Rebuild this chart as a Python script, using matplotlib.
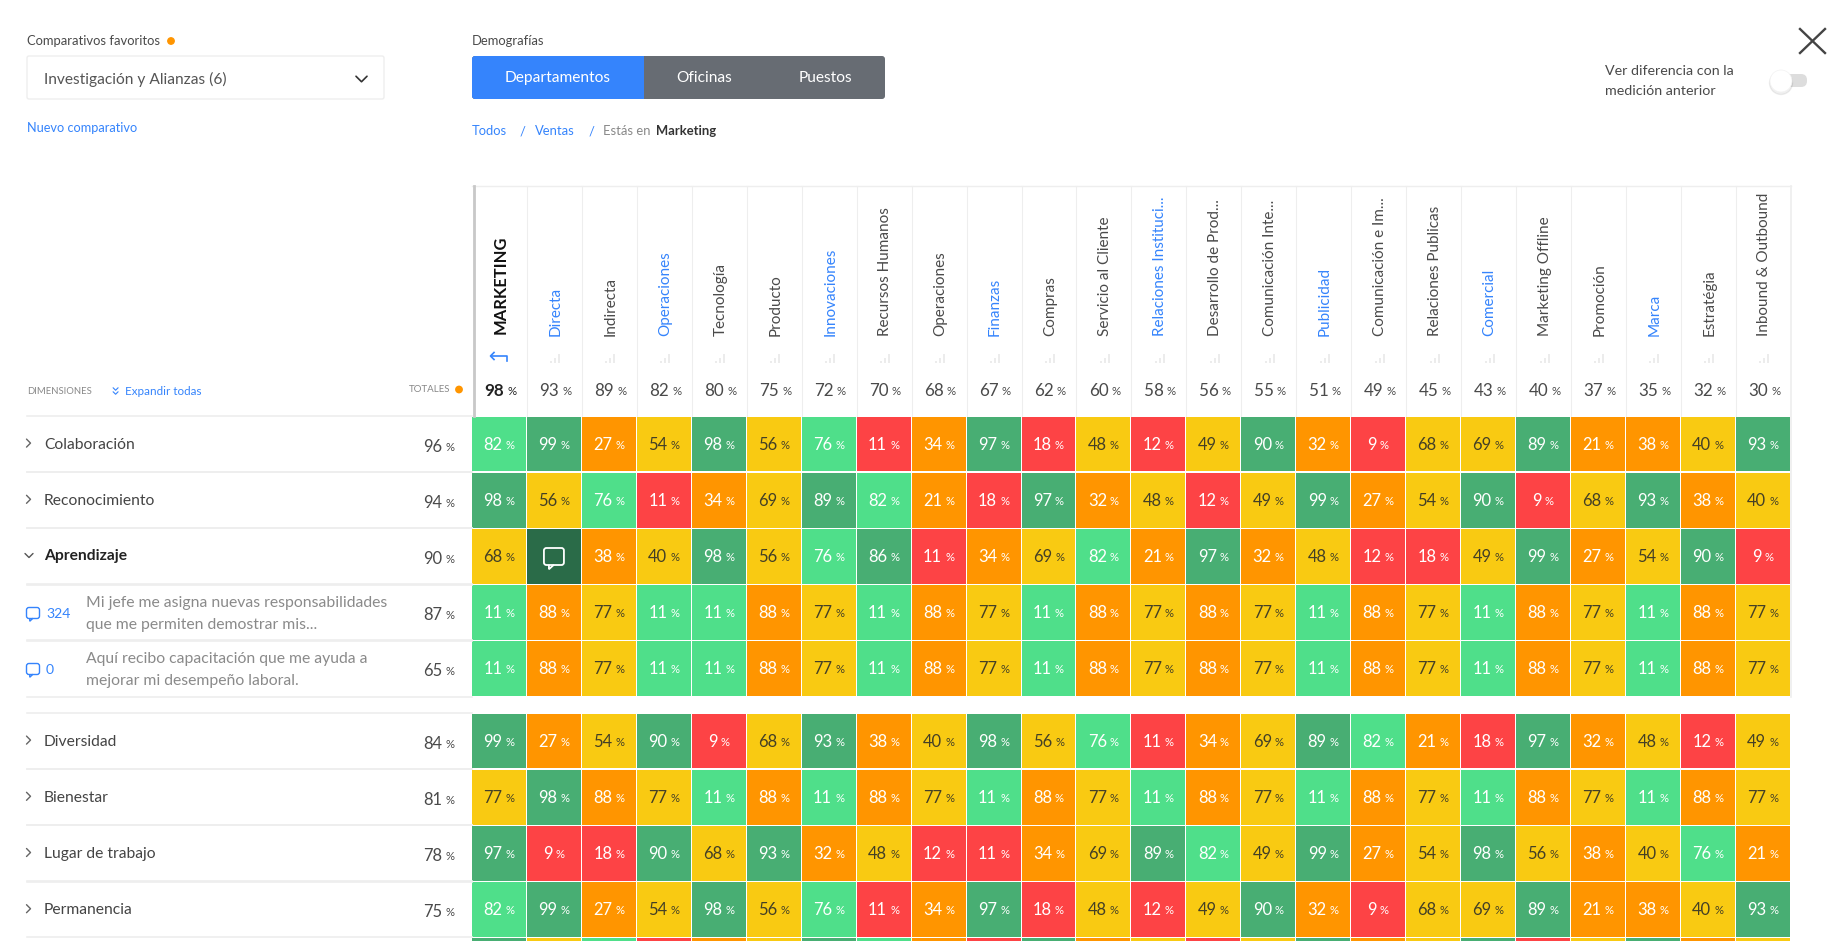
"""Heatmap screen for the comparativos view, drawn on a pixel-sized axes."""

from __future__ import annotations

import matplotlib

matplotlib.use("Agg")
import matplotlib.pyplot as plt
from matplotlib.patches import Circle, FancyBboxPatch, Polygon, Rectangle

plt.rcParams["font.family"] = ["Lato", "DejaVu Sans"]

WIDTH, HEIGHT = 1846, 941

columns = [
    "MARKETING", "Directa", "Indirecta", "Operaciones", "Tecnología", "Producto",
    "Innovaciones", "Recursos Humanos", "Operaciones", "Finanzas", "Compras",
    "Servicio al Cliente", "Relaciones Instituci...", "Desarrollo de Prod...",
    "Comunicación Inte...", "Publicidad", "Comunicación e Im...",
    "Relaciones Publicas", "Comercial", "Marketing Offline", "Promoción", "Marca",
    "Estratégia", "Inbound & Outbound",
]
linked_columns = [1, 3, 6, 9, 12, 15, 18, 21]
column_totals = [98, 93, 89, 82, 80, 75, 72, 70, 68, 67, 62, 60, 58, 56, 55, 51, 49, 45, 43, 40, 37, 35, 32, 30]

row_labels = [
    "Colaboración", "Reconocimiento", "Aprendizaje", None, None,
    "Diversidad", "Bienestar", "Lugar de trabajo", "Permanencia", None,
]
row_totals = [96, 94, 90, 87, 65, 84, 81, 78, 75, None]

colaboracion = [82, 99, 27, 54, 98, 56, 76, 11, 34, 97, 18, 48, 12, 49, 90, 32, 9, 68, 69, 89, 21, 38, 40, 93]
reconocimiento = [98, 56, 76, 11, 34, 69, 89, 82, 21, 18, 97, 32, 48, 12, 49, 99, 27, 54, 90, 9, 68, 93, 38, 40]
aprendizaje = [68, None, 38, 40, 98, 56, 76, 86, 11, 34, 69, 82, 21, 97, 32, 48, 12, 18, 49, 99, 27, 54, 90, 9]
pregunta = [11, 88, 77, 11, 11, 88, 77, 11, 88, 77, 11, 88, 77, 88, 77, 11, 88, 77, 11, 88, 77, 11, 88, 77]
diversidad = [99, 27, 54, 90, 9, 68, 93, 38, 40, 98, 56, 76, 11, 34, 69, 89, 82, 21, 18, 97, 32, 48, 12, 49]
bienestar = [77, 98, 88, 77, 11, 88, 11, 88, 77, 11, 88, 77, 11, 88, 77, 11, 88, 77, 11, 88, 77, 11, 88, 77]
lugar = [97, 9, 18, 90, 68, 93, 32, 48, 12, 11, 34, 69, 89, 82, 49, 99, 27, 54, 98, 56, 38, 40, 76, 21]
rows = [
    colaboracion, reconocimiento, aprendizaje, pregunta, pregunta,
    diversidad, bienestar, lugar, colaboracion, reconocimiento,
]
# in these rows 11 is green and 88 orange, the values do not follow the usual bands
placeholder_rows = [3, 4, 6]
# only a sliver of the last row is on screen, its numbers fall below the edge
sliver_row = 9

DARK_GREEN = "#48ae73"
LIGHT_GREEN = "#4fdf8a"
YELLOW = "#f9ca12"
ORANGE = "#ff9500"
RED = "#fd4345"
BLUE = "#3584fc"
TEXT = "#4a4a4a"
LINE = "#eeeeee"

GRID_LEFT = 472.0
COL_W = 54.95
ROW_TOPS = [416.5, 472.7, 528.9, 585.0, 641.0, 713.5, 769.7, 825.9, 882.1, 938.3]
ROW_H = 56.2


def cell_color(value, row):
    if row in placeholder_rows:
        if value == 11:
            return LIGHT_GREEN
        if value == 88:
            return ORANGE
        if value == 77:
            return YELLOW
    if value >= 86:
        return DARK_GREEN
    if value >= 70:
        return LIGHT_GREEN
    if value >= 40:
        return YELLOW
    if value >= 20:
        return ORANGE
    return RED


def label(ax, x, y, s, size=14.0, color=TEXT, ha="left", weight="normal", rotation=0, va="center"):
    return ax.text(
        x, y, s, fontsize=size * 0.72, color=color, ha=ha, va=va,
        fontweight=weight, rotation=rotation, rotation_mode="anchor",
    )


def percent(ax, fig, x, y, value, color, size=16.5, weight="normal"):
    # number and sign have different sizes, so centre the pair by hand
    renderer = fig.canvas.get_renderer()
    num = label(ax, x, y, str(value), size, color, weight=weight)
    sign = label(ax, x, y + 0.7, "%", size * 0.68, color)
    w_num = num.get_window_extent(renderer).width
    w_sign = sign.get_window_extent(renderer).width
    left = x - (w_num + 3 + w_sign) / 2
    num.set_x(left)
    sign.set_x(left + w_num + 3)


def chevron(ax, x, y, size, color, down=False, lw=1.0):
    if down:
        xs, ys = [x - size, x, x + size], [y - size / 2, y + size / 2, y - size / 2]
    else:
        xs, ys = [x - size / 2, x + size / 2, x - size / 2], [y - size, y, y + size]
    ax.plot(xs, ys, color=color, lw=lw, solid_capstyle="round")


def bubble(ax, x, y, w, h, color, lw=1.2):
    ax.add_patch(FancyBboxPatch(
        (x - w / 2 + 2, y - h / 2 + 2), w - 4, h - 4, boxstyle="round,pad=2,rounding_size=2.5",
        fc="none", ec=color, lw=lw,
    ))
    bottom = y + h / 2
    ax.add_patch(Polygon(
        [(x - w / 4, bottom - 0.3), (x - w / 4, bottom + h * 0.25), (x, bottom - 0.3)],
        closed=False, fc="none", ec=color, lw=lw,
    ))


def draw_controls(ax):
    label(ax, 27, 41, "Comparativos favoritos", 13.0)
    ax.add_patch(Circle((171, 41), 3.2, color=ORANGE))
    ax.add_patch(FancyBboxPatch(
        (29, 58), 353, 39, boxstyle="round,pad=2,rounding_size=2", fc="white", ec=LINE, lw=1.0,
    ))
    label(ax, 44, 79, "Investigación y Alianzas (6)", 15.5, "#555555")
    chevron(ax, 361.5, 79, 5.5, "#333333", down=True, lw=1.2)
    label(ax, 27, 127.5, "Nuevo comparativo", 12.8, BLUE)

    label(ax, 472, 41, "Demografías", 13.0)
    ax.add_patch(FancyBboxPatch(
        (475, 59), 407, 37, boxstyle="round,pad=3,rounding_size=3", fc="#676c73", ec="none",
    ))
    ax.add_patch(FancyBboxPatch(
        (475, 59), 166, 37, boxstyle="round,pad=3,rounding_size=3", fc=BLUE, ec="none",
    ))
    ax.add_patch(Rectangle((630, 56), 14, 43, fc=BLUE, ec="none"))
    label(ax, 558, 78, "Departamentos", 15.5, "white", ha="center")
    label(ax, 704, 78, "Oficinas", 15.5, "white", ha="center")
    label(ax, 825, 78, "Puestos", 15.5, "white", ha="center")

    label(ax, 472, 131, "Todos", 13.0, BLUE)
    label(ax, 520, 131, "/", 13.0, BLUE)
    label(ax, 535, 131, "Ventas", 13.0, BLUE)
    label(ax, 589, 131, "/", 13.0, BLUE)
    label(ax, 603, 131, "Estás en", 13.0, "#888888")
    label(ax, 656, 131, "Marketing", 13.0, "#333333", weight="bold")

    ax.plot([1800, 1825], [29, 53], color="#444444", lw=1.7)
    ax.plot([1825, 1800], [29, 53], color="#444444", lw=1.7)
    label(ax, 1605, 70.5, "Ver diferencia con la", 14.2)
    label(ax, 1605, 91, "medición anterior", 14.2)
    ax.add_patch(FancyBboxPatch(
        (1776, 77), 28, 7, boxstyle="round,pad=3,rounding_size=6", fc="#dddddd", ec="none",
    ))
    ax.add_patch(Circle((1781, 83), 11.5, color="#000000", alpha=0.06))
    ax.add_patch(Circle((1781, 81), 11, color="white", ec="#f2f2f2", lw=0.5))

    label(ax, 27, 391.5, "DIMENSIONES", 9.5, "#888888")
    chevron(ax, 115.6, 389, 2.5, BLUE, down=True, lw=0.8)
    chevron(ax, 115.6, 393, 2.5, BLUE, down=True, lw=0.8)
    label(ax, 125, 391.5, "Expandir todas", 11.6, BLUE)
    label(ax, 409, 390, "TOTALES", 9.8, "#888888")
    ax.add_patch(Circle((459, 389.5), 3.2, color=ORANGE))


def draw_header(ax, fig):
    right = GRID_LEFT + COL_W * len(columns)
    ax.plot([GRID_LEFT, right], [185.5, 185.5], color=LINE, lw=1.0)
    ax.plot([right, right], [185.5, 697], color=LINE, lw=1.2)
    for i in range(1, len(columns)):
        x = GRID_LEFT + COL_W * i
        ax.plot([x, x], [185.5, 416], color=LINE, lw=0.8)
    ax.plot([473.5, 473.5], [185.5, 416], color="#c8c8c8", lw=2.0)

    for i, name in enumerate(columns):
        cx = GRID_LEFT + COL_W * (i + 0.5)
        if i == 0:
            label(ax, cx + 1.5, 334.5, name, 16.5, "#111111", ha="left", weight="bold", rotation=90)
            ax.plot([492, 507, 507], [356, 356, 361], color=BLUE, lw=1.2)
            ax.plot([494, 490.5, 494], [352.5, 356, 359.5], color=BLUE, lw=1.2)
        else:
            color = BLUE if i in linked_columns else TEXT
            label(ax, cx + 1.0, 336, name, 15.2, color, ha="left", rotation=90)
            for k, h in enumerate([2, 5, 9]):
                ax.add_patch(Rectangle((cx - 4 + k * 4, 363 - h), 2, h, fc="#ececec", ec="none"))
        percent(ax, fig, cx + 1.0, 391, column_totals[i], "#222222" if i == 0 else TEXT,
                17.0, "bold" if i == 0 else "normal")


def draw_rows(ax, fig):
    for r, top in enumerate(ROW_TOPS):
        bottom = top + ROW_H
        ax.plot([27, GRID_LEFT], [top - 1, top - 1], color=LINE, lw=1.2)
        if r < 8:
            ax.plot([27, GRID_LEFT], [bottom - 0.5, bottom - 0.5], color=LINE, lw=1.2)
        mid = top + ROW_H / 2
        for c, value in enumerate(rows[r]):
            x = GRID_LEFT + COL_W * c
            face = "#2a6b48" if value is None else cell_color(value, r)
            ax.add_patch(Rectangle((x, top), COL_W - 1.0, ROW_H - 1.4, fc=face, ec="none"))
            if value is None:
                bubble(ax, x + COL_W / 2 - 0.5, mid - 0.5, 20, 17, "white", lw=1.3)
            elif r != sliver_row:
                ink = "#444026" if face == YELLOW else "white"
                percent(ax, fig, x + COL_W / 2 - 0.5, mid, value, ink)
        if row_totals[r] is not None:
            percent(ax, fig, 439, mid + 2, row_totals[r], TEXT, 16.5)
        if row_labels[r] is None:
            continue
        if row_labels[r] == "Aprendizaje":
            chevron(ax, 29, mid - 1.5, 4, "#555555", down=True)
            label(ax, 44, mid - 1, row_labels[r], 15.6, "#222222", weight="bold")
        else:
            chevron(ax, 28.5, mid - 1.5, 4, "#666666")
            label(ax, 44, mid, row_labels[r], 15.6, "#444444")


def draw_questions(ax):
    bubble(ax, 33, 613, 13, 11, BLUE, lw=1.0)
    label(ax, 46, 613.5, "324", 14.0, BLUE)
    label(ax, 85.5, 603.5, "Mi jefe me asigna nuevas responsabilidades", 15.7, "#8a8a8a")
    label(ax, 85.5, 624.5, "que me permiten demostrar mis...", 15.7, "#8a8a8a")
    bubble(ax, 33, 669, 13, 11, BLUE, lw=1.0)
    label(ax, 46, 669.5, "0", 14.0, BLUE)
    label(ax, 85.5, 659.5, "Aquí recibo capacitación que me ayuda a", 15.7, "#8a8a8a")
    label(ax, 85.5, 680.5, "mejorar mi desempeño laboral.", 15.7, "#8a8a8a")


fig = plt.figure(figsize=(WIDTH / 100, HEIGHT / 100), dpi=100)
ax = fig.add_axes([0, 0, 1, 1])
ax.set_xlim(0, WIDTH)
ax.set_ylim(HEIGHT, 0)
ax.axis("off")

draw_controls(ax)
draw_header(ax, fig)
draw_rows(ax, fig)
draw_questions(ax)

fig.savefig("out.png", dpi=100)
